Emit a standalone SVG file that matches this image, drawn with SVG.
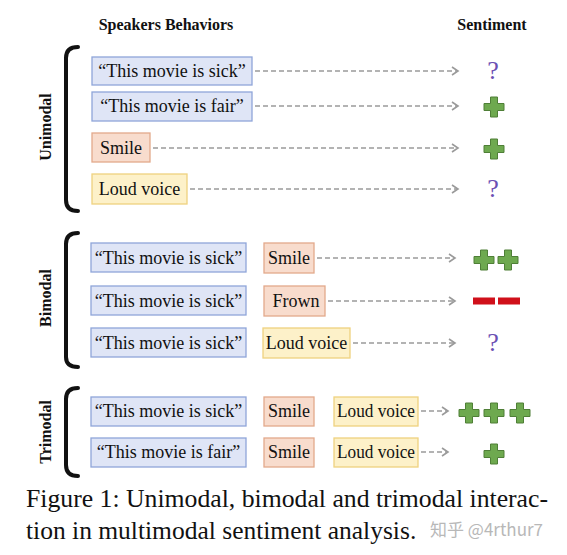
<svg xmlns="http://www.w3.org/2000/svg" width="567" height="555" viewBox="0 0 567 555">
<style>
text{font-family:"Liberation Serif","Times New Roman",serif;fill:#111}
.hd{font-size:16px;font-weight:bold}
.lab{font-size:16px;font-weight:bold}
.bt{font-size:18px}
.blue{fill:#dfe5f6;stroke:#8fa5d9;stroke-width:1.3}
.org{fill:#f8dccd;stroke:#e2a98b;stroke-width:1.3}
.yel{fill:#fdf1c9;stroke:#efd27f;stroke-width:1.3}
.br{fill:none;stroke:#111;stroke-width:4;stroke-linecap:round}
.ar{fill:none;stroke:#9a9a9a;stroke-width:1.5;stroke-dasharray:5,3}
.q{font-size:26px;fill:#6b4fb3;text-anchor:middle}
.cap{font-size:25.5px}
</style>
<defs>
<marker id="ah" markerWidth="10" markerHeight="10" refX="8" refY="5" orient="auto" markerUnits="userSpaceOnUse">
<path d="M2,1 L8,5 L2,9" fill="none" stroke="#9a9a9a" stroke-width="1.6"/>
</marker>
<path id="plus" d="M-3.5,-10 h7 v6.5 h6.5 v7 h-6.5 v6.5 h-7 v-6.5 h-6.5 v-7 h6.5 z" fill="#6ea94f" stroke="#4f7f37" stroke-width="1"/>
<rect id="minus" x="-11" y="-3.5" width="22" height="7" fill="#d0101a"/>
</defs>

<g id="headers">
<text class="hd" x="166" y="30" text-anchor="middle">Speakers Behaviors</text>
<text class="hd" x="492" y="30" text-anchor="middle">Sentiment</text>
</g>

<g id="unimodal">
<path class="br" d="M78,47 Q66,47 66,58 L66,200 Q66,211 78,211"/>
<text class="lab" transform="translate(51,127) rotate(-90)" text-anchor="middle">Unimodal</text>
</g>
<g id="bimodal">
<path class="br" d="M78,233 Q66,233 66,244 L66,357 Q66,367 78,367"/>
<text class="lab" transform="translate(51,298) rotate(-90)" text-anchor="middle">Bimodal</text>
</g>
<g id="trimodal">
<path class="br" d="M78,388 Q66,388 66,399 L66,465 Q66,476 78,476"/>
<text class="lab" transform="translate(51,432) rotate(-90)" text-anchor="middle">Trimodal</text>
</g>

<g id="connectors">
<line class="ar" x1="255" y1="71" x2="458" y2="71" marker-end="url(#ah)"/>
<line class="ar" x1="255" y1="106" x2="458" y2="106" marker-end="url(#ah)"/>
<line class="ar" x1="153" y1="148" x2="458" y2="148" marker-end="url(#ah)"/>
<line class="ar" x1="190" y1="189" x2="458" y2="189" marker-end="url(#ah)"/>
<line class="ar" x1="317" y1="258" x2="455" y2="258" marker-end="url(#ah)"/>
<line class="ar" x1="328" y1="301" x2="455" y2="301" marker-end="url(#ah)"/>
<line class="ar" x1="353" y1="343" x2="455" y2="343" marker-end="url(#ah)"/>
<line class="ar" x1="421" y1="411" x2="448" y2="411" marker-end="url(#ah)"/>
<line class="ar" x1="421" y1="452" x2="448" y2="452" marker-end="url(#ah)"/>
</g>

<g id="u1"><rect class="blue" x="92" y="57" width="160" height="28"/><text class="bt" x="172" y="77" text-anchor="middle">“This movie is sick”</text></g>
<g id="u2"><rect class="blue" x="92" y="92" width="160" height="29"/><text class="bt" x="172" y="112" text-anchor="middle">“This movie is fair”</text></g>
<g id="u3"><rect class="org" x="92" y="133" width="58" height="29"/><text class="bt" x="121" y="154" text-anchor="middle">Smile</text></g>
<g id="u4"><rect class="yel" x="92" y="174" width="95" height="30"/><text class="bt" x="139.5" y="195" text-anchor="middle">Loud voice</text></g>

<g id="b1">
<rect class="blue" x="91" y="243" width="155" height="29"/><text class="bt" x="168.5" y="264" text-anchor="middle">“This movie is sick”</text>
<rect class="org" x="264" y="243" width="50" height="30"/><text class="bt" x="289" y="264" text-anchor="middle">Smile</text>
</g>
<g id="b2">
<rect class="blue" x="91" y="286" width="155" height="29"/><text class="bt" x="168.5" y="307" text-anchor="middle">“This movie is sick”</text>
<rect class="org" x="264" y="286" width="61" height="30"/><text class="bt" x="296" y="307" text-anchor="middle">Frown</text>
</g>
<g id="b3">
<rect class="blue" x="91" y="328" width="155" height="29"/><text class="bt" x="168.5" y="349" text-anchor="middle">“This movie is sick”</text>
<rect class="yel" x="263" y="328" width="87" height="30"/><text class="bt" x="306.5" y="349" text-anchor="middle">Loud voice</text>
</g>

<g id="t1">
<rect class="blue" x="91" y="397" width="155" height="29"/><text class="bt" x="168.5" y="417" text-anchor="middle">“This movie is sick”</text>
<rect class="org" x="264" y="397" width="50" height="29"/><text class="bt" x="289" y="417" text-anchor="middle">Smile</text>
<rect class="yel" x="334" y="397" width="84" height="29"/><text class="bt" x="376" y="417" text-anchor="middle" textLength="78" lengthAdjust="spacingAndGlyphs">Loud voice</text>
</g>
<g id="t2">
<rect class="blue" x="91" y="438" width="155" height="29"/><text class="bt" x="168.5" y="458" text-anchor="middle">“This movie is fair”</text>
<rect class="org" x="264" y="438" width="50" height="29"/><text class="bt" x="289" y="458" text-anchor="middle">Smile</text>
<rect class="yel" x="334" y="438" width="84" height="29"/><text class="bt" x="376" y="458" text-anchor="middle" textLength="78" lengthAdjust="spacingAndGlyphs">Loud voice</text>
</g>

<g id="sentiments">
<text class="q" x="493" y="79">?</text>
<use href="#plus" x="494" y="107"/>
<use href="#plus" x="494" y="149"/>
<text class="q" x="493" y="197">?</text>
<use href="#plus" x="484" y="260"/>
<use href="#plus" x="508" y="260"/>
<use href="#minus" x="484" y="301"/>
<use href="#minus" x="509" y="301"/>
<text class="q" x="493" y="351">?</text>
<use href="#plus" x="469" y="413"/>
<use href="#plus" x="494" y="413"/>
<use href="#plus" x="520" y="413"/>
<use href="#plus" x="494" y="454"/>
</g>

<g id="caption">
<text class="cap" x="26" y="507" textLength="522" lengthAdjust="spacingAndGlyphs">Figure 1: Unimodal, bimodal and trimodal interac-</text>
<text class="cap" x="26" y="539">tion in multimodal sentiment analysis.</text>
<text x="430" y="536" style="font-family:'Noto Sans CJK SC','Liberation Sans',sans-serif;font-size:17px;fill:#b8b8b8">知乎 @4rthur7</text>
</g>
</svg>
